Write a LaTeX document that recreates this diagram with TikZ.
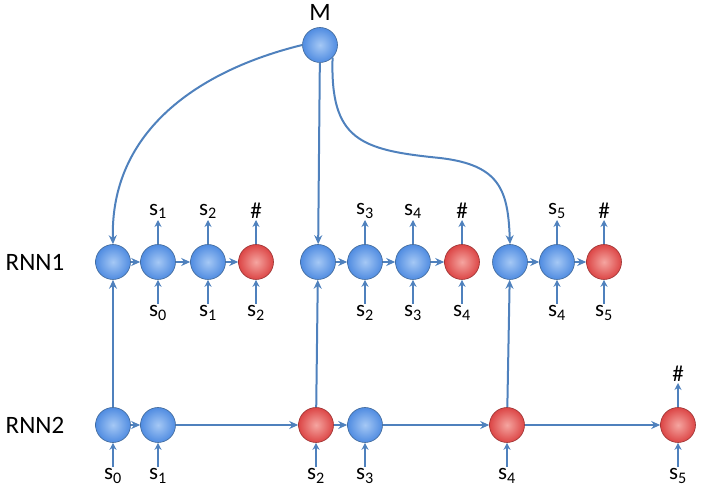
\documentclass[tikz,border=0pt]{standalone}
\usepackage{fontspec}
\setmainfont{Carlito}
\usetikzlibrary{arrows.meta}
\definecolor{ln}{RGB}{79,129,189}
\definecolor{bl}{RGB}{80,140,225}
\definecolor{bll}{RGB}{165,200,245}
\definecolor{rd}{RGB}{220,70,70}
\definecolor{rdl}{RGB}{245,165,160}
\tikzset{
 bnode/.style={circle,minimum size=35pt,inner sep=0pt,draw=ln!80!black,line width=0.6pt,inner color=bll,outer color=bl},
 rnode/.style={circle,minimum size=35pt,inner sep=0pt,draw=rd!70!black,line width=0.6pt,inner color=rdl,outer color=rd},
 con/.style={draw=ln,line width=2pt,-{Stealth[length=9pt,width=8pt]}},
 sm/.style={line width=1.6pt,-{Stealth[length=7pt,width=7pt]}},
 lab/.style={font=\fontsize{23}{23}\selectfont,inner sep=1pt},
 rowlab/.style={font=\fontsize{25}{25}\selectfont}
}
\begin{document}
\begin{tikzpicture}[x=1pt,y=-1pt]
\useasboundingbox (0,0) rectangle (702,502);
\node[rowlab] (M) at (320,12) {M};
\node[bnode] (m) at (320,45) {};
\node[rowlab] (r1) at (35,262) {RNN1};
\node[rowlab] (r2) at (35,425) {RNN2};
\foreach \n/\x/\s in {a1/113/bnode,a2/158/bnode,a3/208/bnode,a4/256/rnode,b1/318/bnode,b2/365/bnode,b3/413/bnode,b4/462/rnode,c1/510/bnode,c2/557/bnode,c3/604/rnode}
  \node[\s] (\n) at (\x,262) {};
\foreach \n/\x/\s in {d1/113/bnode,d2/158/bnode,d3/316/rnode,d4/365/bnode,d5/507/rnode,d6/678/rnode}
  \node[\s] (\n) at (\x,425) {};
\foreach \u/\v in {a1/a2,a2/a3,a3/a4,b1/b2,b2/b3,b3/b4,c1/c2,c2/c3,d1/d2,d2/d3,d3/d4,d4/d5,d5/d6,d1/a1,d3/b1,d5/c1}
  \draw[con] (\u) -- (\v);
\draw[con] (m) -- (b1);
\draw[con] (m.west) .. controls (200,70) and (110,130) .. (a1.north);
\draw[con] (m.south east) .. controls (330,140) and (360,150) .. (440,158)
  .. controls (500,165) and (508,190) .. (c1.north);
\foreach \n/\t/\i in {a2/s_1/1,a3/s_2/2,a4/\#/3,b2/s_3/4,b3/s_4/5,b4/\#/6,c2/s_5/7,c3/\#/8}{
  \node[lab,anchor=south] (ta\i) at ([yshift=42pt]\n.center) {$\mathrm{\t}$};
  \draw[con,sm] (\n) -- (ta\i);
}
\foreach \n/\t/\i in {a2/s_0/1,a3/s_1/2,a4/s_2/3,b2/s_2/4,b3/s_3/5,b4/s_4/6,c2/s_4/7,c3/s_5/8}{
  \node[lab,anchor=north] (tb\i) at ([yshift=-42pt]\n.center) {$\mathrm{\t}$};
  \draw[con,sm] (tb\i) -- (\n);
}
\foreach \n/\t/\i in {d1/s_0/1,d2/s_1/2,d3/s_2/3,d4/s_3/4,d5/s_4/5,d6/s_5/6}{
  \node[lab,anchor=north] (tc\i) at ([yshift=-42pt]\n.center) {$\mathrm{\t}$};
  \draw[con,sm] (tc\i) -- (\n);
}
\node[lab,anchor=south] (td) at ([yshift=42pt]d6.center) {\#};
\draw[con,sm] (d6) -- (td);
\end{tikzpicture}
\end{document}
